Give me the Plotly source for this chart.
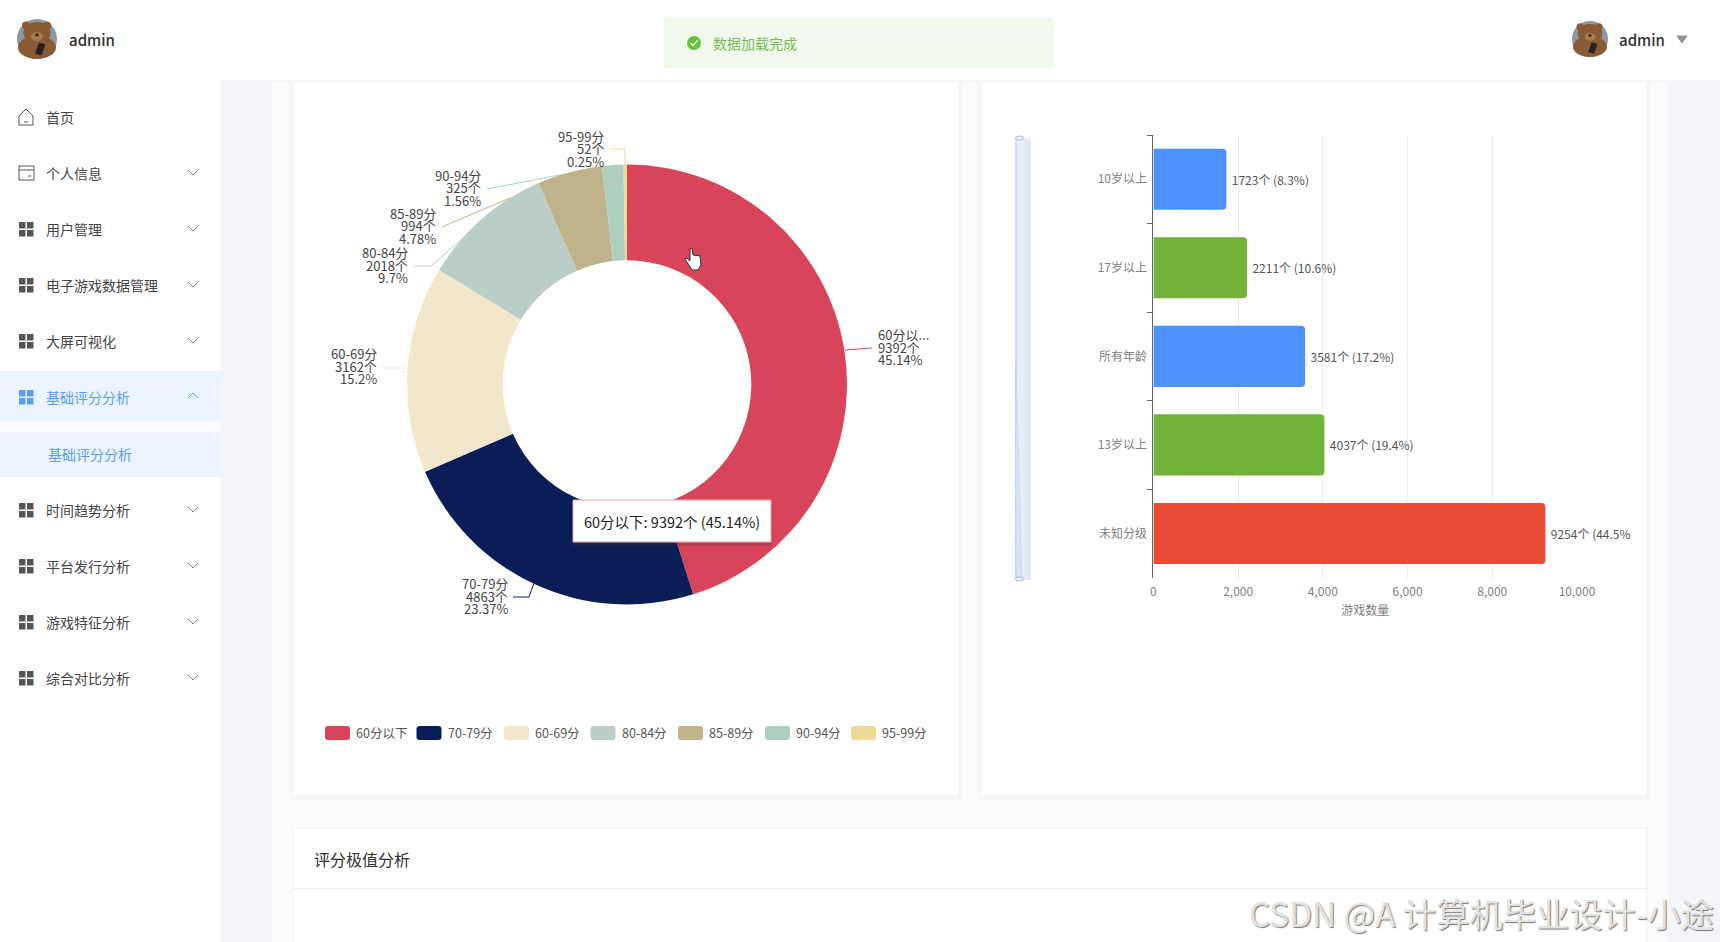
import plotly.graph_objects as go

W = 1720
H = 942

# donut data
score_names = ['60分以下', '70-79分', '60-69分', '80-84分', '85-89分', '90-94分', '95-99分']
score_counts = [9392, 4863, 3162, 2018, 994, 325, 52]
score_pcts = ['45.14', '23.37', '15.2', '9.7', '4.78', '1.56', '0.25']
score_colors = ['#D8455B', '#0A1D56', '#F2E7CB', '#BBCDC7', '#C0B28B', '#AECFC0', '#EFD997']
# name as printed next to the donut, the first one is cut off there
score_short = ['60分以...', '70-79分', '60-69分', '80-84分', '85-89分', '90-94分', '95-99分']

# bar data
age_names = ['10岁以上', '17岁以上', '所有年龄', '13岁以上', '未知分级']
age_counts = [1723, 2211, 3581, 4037, 9254]
age_labels = ['1723个 (8.3%)', '2211个 (10.6%)', '3581个 (17.2%)', '4037个 (19.4%)', '9254个 (44.5%']
age_colors = ['#4E90FE', '#72B13A', '#4E90FE', '#72B13A', '#E94B35']
x_ticks = [0, 2000, 4000, 6000, 8000, 10000]

# sidebar
menu_names = ['首页', '个人信息', '用户管理', '电子游戏数据管理', '大屏可视化', '基础评分分析',
              '时间趋势分析', '平台发行分析', '游戏特征分析', '综合对比分析']
menu_y = [117, 173, 229, 285, 341, 397, 510, 566, 622, 678]


def fx(p):
    return p / W


def fy(p):
    return 1 - p / H


shapes = []
notes = []


def rect(x0, y0, x1, y1, fill, line=None, layer='below', width=1):
    shapes.append(dict(type='rect', xref='paper', yref='paper', x0=fx(x0), x1=fx(x1), y0=fy(y0), y1=fy(y1),
                       fillcolor=fill, line=dict(color=line, width=width if line else 0), layer=layer))


def oval(cx, cy, rx, ry, fill, line=None, layer='above'):
    shapes.append(dict(type='circle', xref='paper', yref='paper', x0=fx(cx - rx), x1=fx(cx + rx),
                       y0=fy(cy + ry), y1=fy(cy - ry), fillcolor=fill,
                       line=dict(color=line, width=1 if line else 0), layer=layer))


def poly(points, color, width=1, fill=None, close=False, layer='above'):
    path = 'M ' + ' L '.join(f'{fx(x):.5f} {fy(y):.5f}' for x, y in points)
    if close:
        path += ' Z'
    shapes.append(dict(type='path', xref='paper', yref='paper', path=path, fillcolor=fill,
                       line=dict(color=color, width=width), layer=layer))


def text(x, y, s, size=14, color='#444444', anchor='left', family='Noto Sans CJK SC', **font):
    notes.append(dict(x=fx(x), y=fy(y), xref='paper', yref='paper', text=s, showarrow=False, xanchor=anchor,
                      yanchor='middle', align=anchor, borderpad=0,
                      font=dict(size=size, color=color, family=family, **font)))


def avatar(cx, cy, r):
    oval(cx, cy, r, r, '#8A9AA0')
    oval(cx - r * 0.55, cy - r * 0.68, r * 0.2, r * 0.2, '#8A5A36')
    oval(cx + r * 0.5, cy - r * 0.68, r * 0.2, r * 0.2, '#8A5A36')
    oval(cx, cy - r * 0.3, r * 0.68, r * 0.55, '#8A5A36')
    oval(cx, cy + r * 0.42, r * 0.95, r * 0.58, '#8A5A36')
    oval(cx, cy - r * 0.12, r * 0.3, r * 0.22, '#A67C4E')
    oval(cx, cy - r * 0.2, r * 0.09, r * 0.07, '#2A1A10')
    poly([(cx + r * 0.1, cy + r * 0.2), (cx + r * 0.4, cy + r * 0.28), (cx + r * 0.22, cy + r * 0.8),
          (cx - r * 0.08, cy + r * 0.72)], '#222222', 0.5, '#222222', True)


# page background
rect(0, 0, W, H, '#F4F5F9')
rect(272, 0, 1668, H, '#FBFBFB')

# cards
rect(290, 70, 962, 800, '#F7F7F8')
rect(978, 70, 1650, 800, '#F7F7F8')
rect(293, 70, 959, 796, '#FFFFFF', '#F3F3F5')
rect(981, 70, 1647, 796, '#FFFFFF', '#F3F3F5')
rect(293, 828, 1647, H + 2, '#FFFFFF', '#F0F0F2')
rect(293, 888, 1647, 889, '#EFEFF1')
text(313, 859, '评分极值分析', 16, '#303133')

# header and sidebar
rect(221, 0, W, 80, '#FFFFFF')
rect(221, 80, W, 82, '#F6F6F8', layer='above')
rect(0, 0, 221, H, '#FFFFFF')
rect(0, 371, 221, 421, '#ECF5FF')
rect(0, 421, 221, 432, '#F9FBFE')
rect(0, 432, 221, 477, '#ECF5FF')
avatar(37, 39, 20)
text(68, 40, 'admin', 15, '#303133', weight=500)
avatar(1590, 39, 18)
text(1618, 40, 'admin', 15, '#303133', weight=500)
poly([(1677, 36), (1687, 36), (1682, 43)], '#909399', 1, '#909399', True)

# success message
rect(665, 19, 1052, 67, '#F0F9EB', '#E4F3DB')
oval(694, 43, 7, 7, '#67C23A')
poly([(690.5, 43), (693, 45.5), (697.5, 40.5)], '#FFFFFF', 1.5)
text(712, 43, '数据加载完成', 14, '#7DB85C')

# menu rows
for i, name in enumerate(menu_names):
    y = menu_y[i]
    active = name == '基础评分分析'
    color = '#5A9CF8' if active else '#444444'
    text(44.5, y, name, 14, color)
    if i == 0:
        poly([(19, y - 1), (26, y - 8), (33, y - 1), (33, y + 8), (19, y + 8)], '#555555', 1, close=True)
        poly([(24, y + 5), (28, y + 5)], '#555555', 1)
    elif i == 1:
        rect(19, y - 7, 34, y + 7, 'rgba(0,0,0,0)', '#555555', 'above')
        poly([(19, y - 3), (34, y - 3)], '#555555', 1)
        poly([(28, y + 3), (31, y + 3)], '#555555', 1)
    else:
        icon = '#5A9CF8' if active else '#555555'
        for dx in (0, 8):
            for dy in (0, 8):
                rect(19 + dx, y - 7 + dy, 25.5 + dx, y - 0.5 + dy, icon, layer='above')
    if i > 0:
        arrow = [(188, y - 3), (193, y + 2), (198, y - 3)]
        if active:
            arrow = [(188, y + 1), (193, y - 4), (198, y + 1)]
        poly(arrow, '#5A9CF8' if active else '#7C8087', 1)
text(47, 454, '基础评分分析', 14, '#5A9CF8')

# donut labels, three tight lines each: right edge or left edge, middle line y
label_pos = [(877, 347, 'left'), (509, 596, 'right'), (378, 366, 'right'), (409, 265, 'right'),
             (437, 226, 'right'), (482, 188, 'right'), (605, 149, 'right')]
leaders = [[(845, 350), (872, 348)],
           [(513, 597), (529, 597), (534, 583)],
           [(382, 368), (409, 368)],
           [(414, 266), (431, 266), (472, 230)],
           [(442, 227), (510, 198)],
           [(487, 189), (565, 174)],
           [(609, 149), (625, 149), (625, 165)]]
for i, name in enumerate(score_short):
    x, y, side = label_pos[i]
    lines = [name, f'{score_counts[i]}个', f'{score_pcts[i]}%']
    for j, line in enumerate(lines):
        text(x, y + (j - 1) * 12.3, line, 13, '#444444', side)
    poly(leaders[i], score_colors[i], 1)

# donut legend
legend_x = [325, 416.5, 504, 590.5, 678, 765, 851]
for i, name in enumerate(score_names):
    shapes.append(dict(type='path', xref='paper', yref='paper', fillcolor=score_colors[i], line=dict(width=0),
                       layer='above',
                       path=f'M {fx(legend_x[i] + 3):.5f} {fy(726):.5f} L {fx(legend_x[i] + 22):.5f} {fy(726):.5f} '
                            f'Q {fx(legend_x[i] + 25):.5f} {fy(726):.5f} {fx(legend_x[i] + 25):.5f} {fy(729):.5f} '
                            f'L {fx(legend_x[i] + 25):.5f} {fy(737):.5f} '
                            f'Q {fx(legend_x[i] + 25):.5f} {fy(740):.5f} {fx(legend_x[i] + 22):.5f} {fy(740):.5f} '
                            f'L {fx(legend_x[i] + 3):.5f} {fy(740):.5f} '
                            f'Q {fx(legend_x[i]):.5f} {fy(740):.5f} {fx(legend_x[i]):.5f} {fy(737):.5f} '
                            f'L {fx(legend_x[i]):.5f} {fy(729):.5f} '
                            f'Q {fx(legend_x[i]):.5f} {fy(726):.5f} {fx(legend_x[i] + 3):.5f} {fy(726):.5f} Z'))
    text(legend_x[i] + 30, 732, name, 12.5, '#555555')

# tooltip and hand cursor
rect(572, 503, 772, 546, 'rgba(90,40,50,0.25)', layer='above')
rect(573, 500, 771, 542, '#FFFFFF', '#E9A9B3', 'above')
text(672, 521, f'{score_names[0]}: {score_counts[0]}个 ({score_pcts[0]}%)', 14.5, '#222222', 'center')
poly([(690, 249), (692, 248), (693, 255), (700, 256), (701, 265), (698, 270), (692, 270), (685, 259), (687, 258),
      (690, 261)], '#333333', 1, '#FFFFFF', True)

# bar chart zoom slider
rect(1015, 138, 1031, 580, '#E4E8F4', layer='above')
rect(1016, 138, 1024, 580, '#E6EDFD', layer='above')
poly([(1016, 138), (1016, 580)], '#BCCDF5', 1)
poly([(1016, 360), (1022, 580), (1016, 580)], '#BCCDF5', 0.5, '#D5E2FB', True)
oval(1019.5, 138, 4, 2, '#F4F6FC', '#A9B4CC')
oval(1019.5, 579, 4, 2, '#F4F6FC', '#A9B4CC')

# watermark
text(1248, 912, 'CSDN @A 计算机毕业设计-小途', 33.3, '#E2E2E2', shadow='1px 1px 1px #777777')

fig = go.Figure()
fig.add_trace(go.Pie(labels=score_names, values=score_counts, hole=0.565, sort=False, direction='clockwise',
                     rotation=0, textinfo='none', showlegend=False,
                     marker=dict(colors=score_colors, line=dict(width=0)),
                     domain=dict(x=[fx(407), fx(847)], y=[fy(604.5), fy(164.5)])))
fig.add_trace(go.Bar(x=age_counts, y=age_names, orientation='h', width=0.69,
                     text=['\u2009' + s for s in age_labels],
                     textposition='outside', cliponaxis=False, constraintext='none',
                     textfont=dict(size=12, color='#555555'), showlegend=False,
                     marker=dict(color=age_colors, cornerradius=4, line=dict(width=0))))

fig.update_layout(width=W, height=H, margin=dict(l=0, r=0, t=0, b=0), autosize=False,
                  paper_bgcolor='#FFFFFF', plot_bgcolor='rgba(0,0,0,0)',
                  font=dict(family='Noto Sans CJK SC'), shapes=shapes, annotations=notes,
                  xaxis=dict(domain=[fx(1153.4), fx(1577)], range=[0, 10000], tickvals=x_ticks, tickformat=',d',
                             showline=False, zeroline=False, showgrid=True, gridcolor='#E9E9EF',
                             ticks='outside', ticklen=3, tickcolor='rgba(0,0,0,0)',
                             tickfont=dict(size=12, color='#808080'), automargin=False,
                             title=dict(text='游戏数量', font=dict(size=12, color='#808080'), standoff=8)),
                  yaxis=dict(domain=[fy(577.7), fy(135)], autorange='reversed', type='category', categoryorder='array',
                             categoryarray=age_names, showline=True, linecolor='#666666', ticks='outside', ticklen=5,
                             tickcolor='#666666', tickson='boundaries', showgrid=False, zeroline=False,
                             ticklabelstandoff=3,
                             tickfont=dict(size=12, color='#808080'), automargin=False))

fig.write_html("out.html", config=dict(displayModeBar=False), post_script="document.body.style.margin = '0';")
